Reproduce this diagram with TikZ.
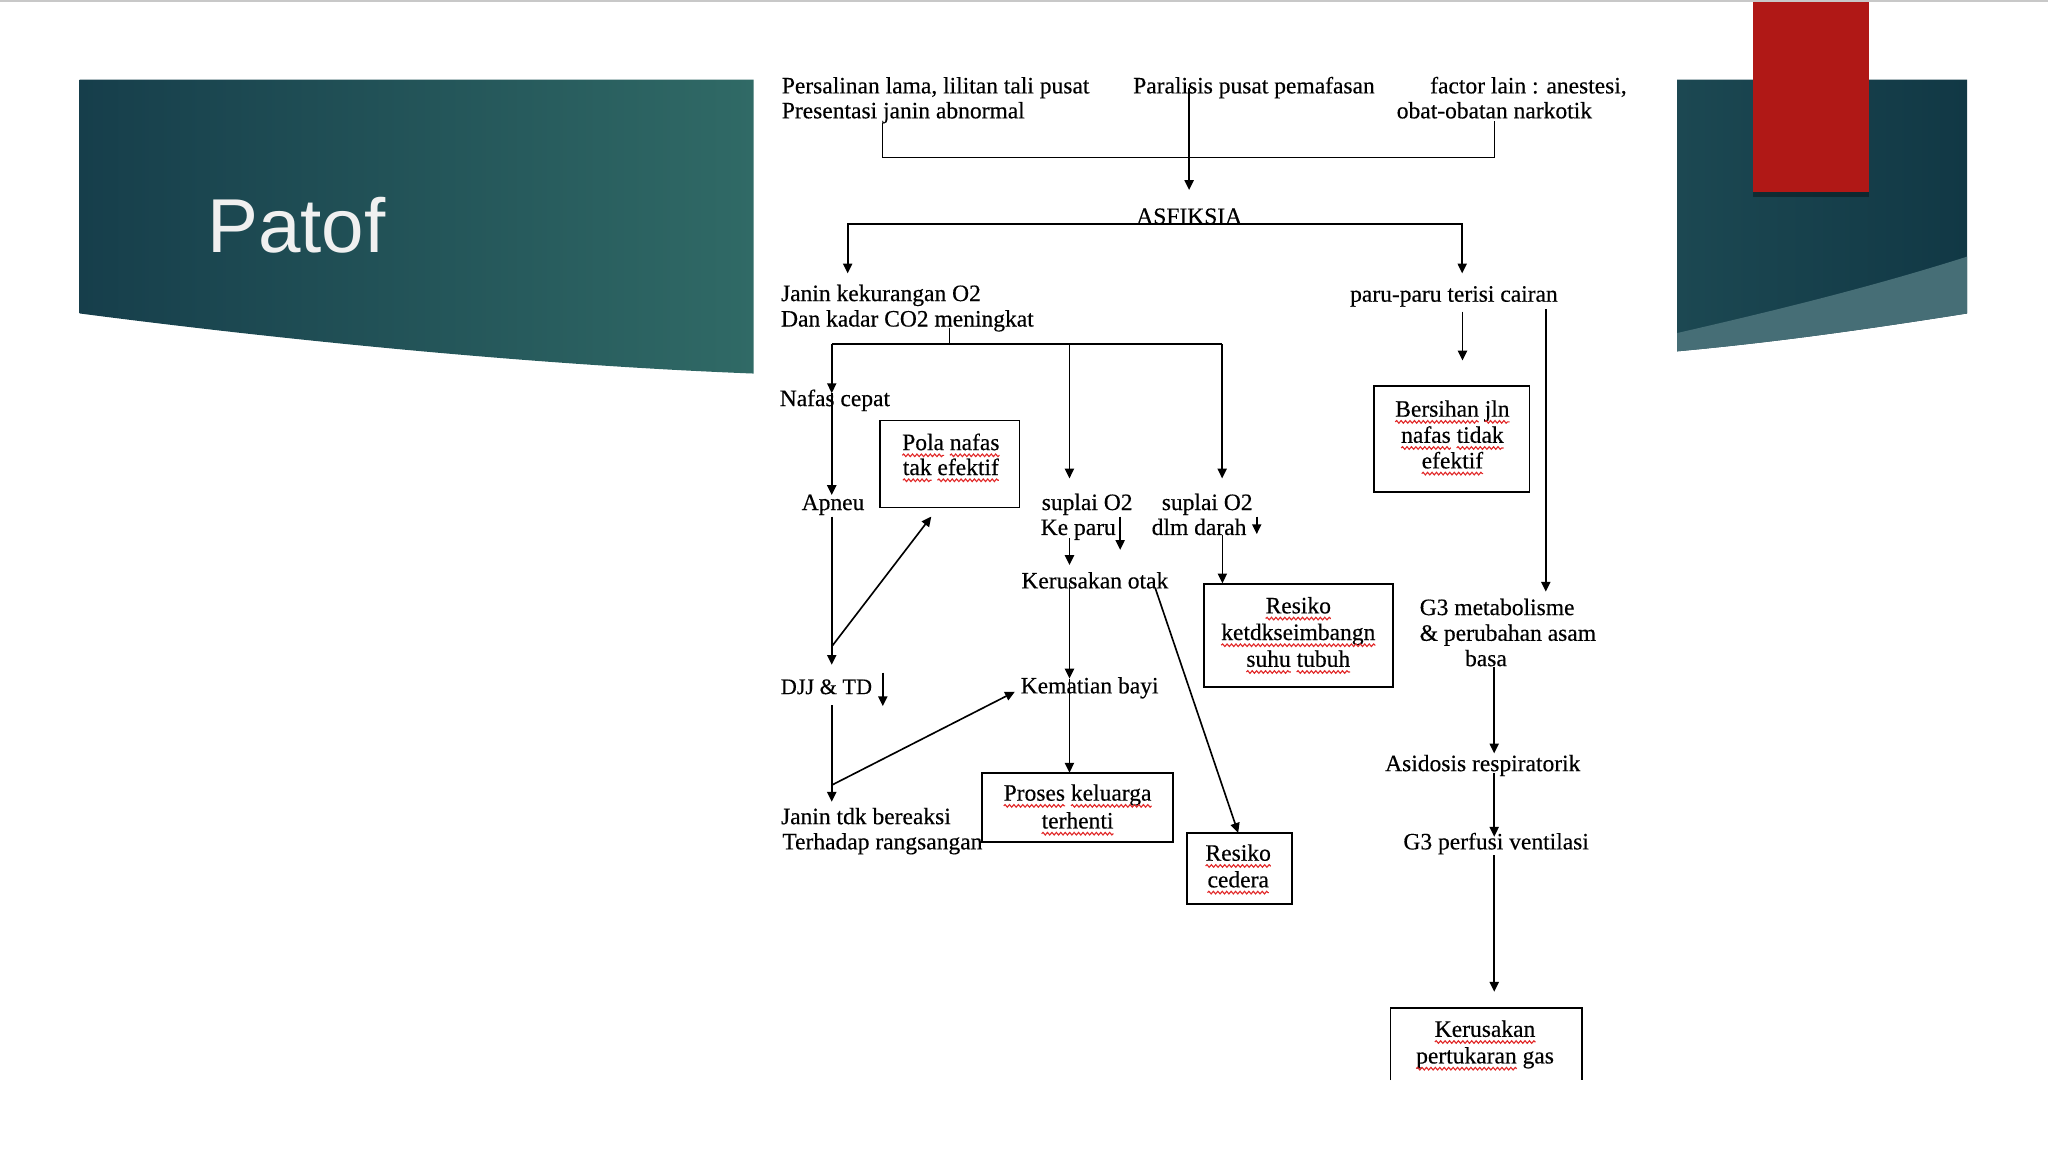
\documentclass[tikz,border=0pt]{standalone}
\usepackage{fontspec}
\setmainfont{Liberation Serif}
\newfontfamily\dfont{Liberation Serif}[FakeBold=0.4]
\newfontfamily\titlefont{Liberation Sans}
\usetikzlibrary{arrows.meta,decorations.pathmorphing}
\definecolor{tealA}{RGB}{22,62,75}
\definecolor{tealB}{RGB}{48,106,102}
\definecolor{tealC}{RGB}{28,72,82}
\definecolor{tealD}{RGB}{17,56,69}
\definecolor{tealL}{RGB}{70,110,118}
\definecolor{redbar}{RGB}{176,24,22}
\definecolor{wvred}{RGB}{225,40,40}
\definecolor{topgray}{RGB}{200,200,200}
\definecolor{titlecol}{RGB}{240,240,240}
\newcommand\wv[1]{\tikz[baseline=(wvn.base)]{\node[inner sep=0pt,outer sep=0pt,anchor=base,draw=none,fill=none,rectangle,minimum width=0pt,minimum height=0pt] (wvn) {#1};\draw[overlay,wvred,line width=0.85pt,decorate,decoration={snake,amplitude=1pt,segment length=3.4pt}] ([yshift=-4pt]wvn.base west) -- ([yshift=-4pt]wvn.base east);}}
\begin{document}
\begin{tikzpicture}[x=1pt,y=-1pt,
  txt/.style={inner sep=0pt,outer sep=0pt,anchor=base west,font=\dfont\fontsize{18pt}{20pt}\selectfont},
  ctxt/.style={txt,anchor=base},
  box/.style={draw,line width=1.3pt,inner sep=0pt,outer sep=0pt,anchor=north west},
  ln/.style={line width=1.25pt},
  arr/.style={ln,-{Triangle[width=7pt,length=7.5pt]}},
  biarr/.style={ln,{Triangle[width=7pt,length=7.5pt]}-{Triangle[width=7pt,length=7.5pt]}}]
\useasboundingbox (0,0) rectangle (1568,882);
% ---- slide decoration
\draw[topgray,line width=1.5pt] (0,0.75) -- (1568,0.75);
\shade[left color=tealA,right color=tealB] (61,61) -- (577,61) -- (577,286) .. controls (420,280) and (230,262) .. (61,240) -- cycle;
\shade[left color=tealC,right color=tealD] (1284,61) -- (1506,61) -- (1506,240) .. controls (1430,252) and (1360,262) .. (1284,269) -- cycle;
\fill[tealL] (1284,255) .. controls (1358,238) and (1432,220) .. (1506,196.5) -- (1506,240) .. controls (1430,252) and (1360,262) .. (1284,269) -- cycle;
\fill[black,opacity=0.35] (1342,147) rectangle (1431,150.5);
\fill[redbar] (1342,1.5) rectangle (1431,147);
\node[anchor=base west,inner sep=0pt,text=titlecol,font=\titlefont\fontsize{58.5pt}{60pt}\selectfont] (title) at (158.5,193.2) {Patof};
% ---- boxes
\node[box,minimum width=106.7pt,minimum height=66.5pt] (polabox) at (673.8,322) {};
\node[box,minimum width=119pt,minimum height=81.2pt] (bersbox) at (1052,295.3) {};
\node[box,minimum width=144.6pt,minimum height=79pt] (suhubox) at (922,447) {};
\node[box,minimum width=146pt,minimum height=52.9pt] (prosbox) at (752,591.6) {};
\node[box,minimum width=80pt,minimum height=54.4pt] (cedbox) at (909,637.6) {};
\node[inner sep=0pt,outer sep=0pt,anchor=north west,minimum width=146.5pt,minimum height=55pt] (gasbox) at (1064.5,772) {};
\draw[line width=1.3pt] (gasbox.south west) -- (gasbox.north west) -- (gasbox.north east) -- (gasbox.south east);
% ---- texts
\node[txt] (t1a) at (598.6,71.5) {Persalinan lama, lilitan tali pusat};
\node[txt] (t1b) at (598.6,90.6) {Presentasi janin abnormal};
\node[txt] (t2) at (867.6,71.5) {Paralisis pusat pemafasan};
\node[txt] (t3a) at (1095,71.5) {factor lain : anestesi,};
\node[txt] (t3b) at (1069.4,90.6) {obat-obatan narkotik};
\node[ctxt] (asf) at (910.5,171.5) {ASFIKSIA};
\node[txt] (jka) at (598,230.5) {Janin kekurangan O2};
\node[txt] (jkb) at (598,250) {Dan kadar CO2 meningkat};
\node[txt] (nafas) at (597,310.9) {Nafas cepat};
\node[txt] (apneu) at (613.8,390.5) {Apneu};
\node[txt] (spa) at (797.6,390.5) {suplai O2};
\node[txt] (spb) at (796.8,409.6) {Ke paru};
\node[txt] (sda) at (889.5,390.5) {suplai O2};
\node[txt] (sdb) at (881.8,409.6) {dlm darah};
\node[txt] (otak) at (782,450.5) {Kerusakan otak};
\node[txt] (mati) at (781.5,530.9) {Kematian bayi};
\node[txt,font=\dfont\fontsize{17pt}{20pt}\selectfont] (djj) at (597.8,531.4) {DJJ \& TD};
\node[txt] (jta) at (598,631) {Janin tdk bereaksi};
\node[txt] (jtb) at (599,650.3) {Terhadap rangsangan};
\node[txt] (paru) at (1033.7,231) {paru-paru terisi cairan};
\node[txt] (g3a) at (1087,470.9) {G3 metabolisme};
\node[txt] (g3b) at (1087,490.6) {\& perubahan asam};
\node[txt] (g3c) at (1121.7,510) {basa};
\node[txt] (asid) at (1060.5,590.4) {Asidosis respiratorik};
\node[txt] (perf) at (1074.5,650.3) {G3 perfusi ventilasi};
\node[ctxt] (pola1) at (728,344.6) {\wv{Pola} \wv{nafas}};
\node[ctxt] (pola2) at (728,363.7) {\wv{tak} \wv{efektif}};
\node[ctxt] (bers1) at (1112,319) {\wv{Bersihan} \wv{jln}};
\node[ctxt] (bers2) at (1112,339) {\wv{nafas} \wv{tidak}};
\node[ctxt] (bers3) at (1112,358.6) {\wv{efektif}};
\node[ctxt] (suhu1) at (994,469.6) {\wv{Resiko}};
\node[ctxt] (suhu2) at (994,490) {\wv{ketdkseimbangn}};
\node[ctxt] (suhu3) at (994,510.5) {\wv{suhu} \wv{tubuh}};
\node[ctxt] (pros1) at (825,613) {\wv{Proses} \wv{keluarga}};
\node[ctxt] (pros2) at (825,634.3) {\wv{terhenti}};
\node[ctxt] (ced1) at (948,659) {\wv{Resiko}};
\node[ctxt] (ced2) at (948,679.4) {\wv{cedera}};
\node[ctxt] (gas1) at (1137,793.8) {\wv{Kerusakan}};
\node[ctxt] (gas2) at (1137,814.2) {\wv{pertukaran} gas};
% ---- connector points
\coordinate (bl) at (675.6,94);
\coordinate (blc) at (675.6,120.5);
\coordinate (brc) at (1144.2,120.5);
\coordinate (br) at (1144.2,93);
\coordinate (pa) at (910.4,67.6);
\coordinate (pb) at (910.4,145.5);
\coordinate (al) at (649,209.3);
\coordinate (alc) at (649,171.7);
\coordinate (arc) at (1119.5,171.7);
\coordinate (ar) at (1119.5,209.3);
\coordinate (ja) at (727,251);
\coordinate (jb) at (727,263.5);
\coordinate (h1) at (636.8,263.5);
\coordinate (h2) at (818.8,263.5);
\coordinate (h3) at (935.7,263.5);
\coordinate (nf) at (636.8,301);
\coordinate (ap) at (636.8,379);
\coordinate (apb) at (636.8,395.6);
\coordinate (dj) at (636.8,509);
\coordinate (djs) at (636.8,495);
\coordinate (pl) at (713,395.5);
\coordinate (djb) at (636.8,540);
\coordinate (jt) at (636.8,613.8);
\coordinate (jts) at (637,601);
\coordinate (mt) at (777,529.6);
\coordinate (dd1) at (675.9,515);
\coordinate (dd2) at (675.9,540.6);
\coordinate (s1) at (818.8,366.3);
\coordinate (s2) at (935.7,366.3);
\coordinate (kp1) at (857.6,395.6);
\coordinate (kp2) at (857.6,421);
\coordinate (dr1) at (962.2,395.6);
\coordinate (dr2) at (962.2,408.9);
\coordinate (kpa) at (818.8,412.2);
\coordinate (kpb) at (818.8,432.6);
\coordinate (dra) at (935.9,409.6);
\coordinate (drb) at (935.9,446.6);
\coordinate (ota) at (818.8,446);
\coordinate (otb) at (818.8,519.5);
\coordinate (otc) at (818.8,591.6);
\coordinate (oca) at (884.4,450);
\coordinate (ocb) at (948,637.6);
\coordinate (pr1) at (1119.7,238.6);
\coordinate (pr2) at (1119.7,276);
\coordinate (pr3) at (1183.5,236.8);
\coordinate (pr4) at (1183.5,453);
\coordinate (bs1) at (1144,510.5);
\coordinate (bs2) at (1144,576.8);
\coordinate (as1) at (1144,592);
\coordinate (as2) at (1144,640.6);
\coordinate (pf1) at (1144,654.7);
\coordinate (pf2) at (1144,759.3);
% ---- connectors
\draw[ln] (bl) -- (blc) -- (brc) -- (br);
\draw[arr] (pa) -- (pb);
\draw[biarr] (al) -- (alc) -- (arc) -- (ar);
\draw[ln] (ja) -- (jb);
\draw[ln] (h1) -- (h3);
\draw[arr] (h1) -- (nf);
\draw[arr] (h2) -- (s1);
\draw[arr] (h3) -- (s2);
\draw[arr] (nf) -- (ap);
\draw[arr] (apb) -- (dj);
\draw[arr] (djs) -- (pl);
\draw[arr] (djb) -- (jt);
\draw[arr] (jts) -- (mt);
\draw[arr] (dd1) -- (dd2);
\draw[arr] (kp1) -- (kp2);
\draw[arr] (dr1) -- (dr2);
\draw[arr] (kpa) -- (kpb);
\draw[arr] (dra) -- (drb);
\draw[arr] (ota) -- (otb);
\draw[arr] (otb) -- (otc);
\draw[arr] (oca) -- (ocb);
\draw[arr] (pr1) -- (pr2);
\draw[arr] (pr3) -- (pr4);
\draw[arr] (bs1) -- (bs2);
\draw[arr] (as1) -- (as2);
\draw[arr] (pf1) -- (pf2);
\end{tikzpicture}
\end{document}
